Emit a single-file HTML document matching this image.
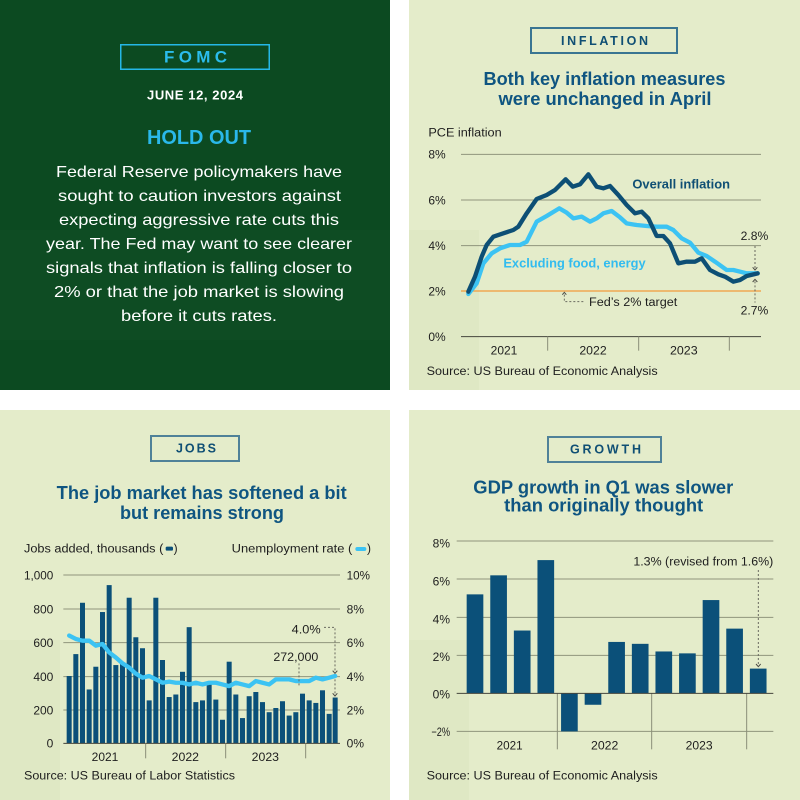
<!DOCTYPE html>
<html><head><meta charset="utf-8">
<style>html,body{margin:0;padding:0;background:#fff}svg{display:block}</style>
</head>
<body>
<svg width="800" height="800" viewBox="0 0 800 800" xmlns="http://www.w3.org/2000/svg" font-family="'Liberation Sans', sans-serif">
<rect width="800" height="800" fill="#fff"/>
<!-- panels -->
<rect x="0" y="0" width="390" height="390" fill="#0c4a21"/>
<rect x="409" y="0" width="391" height="390" fill="#e4ecca"/>
<rect x="0" y="410" width="390" height="390" fill="#e4ecca"/>
<rect x="409" y="410" width="391" height="390" fill="#e4ecca"/>
<!-- subtle texture -->
<g fill="#12542a" opacity="0.25">
<rect x="0" y="230" width="390" height="110"/>
</g>
<g fill="#d8e3bb" opacity="0.35">
<rect x="409" y="230" width="70" height="160"/>
<rect x="0" y="640" width="60" height="160"/>
<rect x="409" y="640" width="60" height="160"/>
</g>

<!-- FOMC panel -->
<rect x="120.75" y="44.75" width="148.5" height="24.5" fill="none" stroke="#25b7e6" stroke-width="1.5"/>
<text x="164" y="62.5" font-size="17" font-weight="bold" fill="#2bbcec" textLength="63" lengthAdjust="spacing">FOMC</text>
<text x="147" y="99.5" font-size="13" font-weight="bold" fill="#ffffff" textLength="96" lengthAdjust="spacing">JUNE 12, 2024</text>
<text x="199" y="144" font-size="20" font-weight="bold" fill="#2ab8ea" text-anchor="middle" textLength="104" lengthAdjust="spacingAndGlyphs">HOLD OUT</text>
<g font-size="16" fill="#ffffff" text-anchor="middle">
<text x="199" y="177" textLength="286" lengthAdjust="spacingAndGlyphs">Federal Reserve policymakers have</text>
<text x="199.5" y="201" textLength="283" lengthAdjust="spacingAndGlyphs">sought to caution investors against</text>
<text x="199" y="225" textLength="280" lengthAdjust="spacingAndGlyphs">expecting aggressive rate cuts this</text>
<text x="199" y="249" textLength="306" lengthAdjust="spacingAndGlyphs">year. The Fed may want to see clearer</text>
<text x="199" y="273" textLength="306" lengthAdjust="spacingAndGlyphs">signals that inflation is falling closer to</text>
<text x="199" y="297" textLength="290" lengthAdjust="spacingAndGlyphs">2% or that the job market is slowing</text>
<text x="199" y="321" textLength="156" lengthAdjust="spacingAndGlyphs">before it cuts rates.</text>
</g>

<!-- INFLATION panel header -->
<rect x="531" y="28" width="146" height="25" fill="none" stroke="#3a7592" stroke-width="2"/>
<text x="561" y="45" font-size="12.5" font-weight="bold" fill="#0f4f74" textLength="87" lengthAdjust="spacing">INFLATION</text>
<text x="604.5" y="85" font-size="18" font-weight="bold" fill="#0f5581" text-anchor="middle" textLength="242" lengthAdjust="spacingAndGlyphs">Both key inflation measures</text>
<text x="605" y="105" font-size="18" font-weight="bold" fill="#0f5581" text-anchor="middle" textLength="213" lengthAdjust="spacingAndGlyphs">were unchanged in April</text>

<!-- INFLATION chart (zoom coords) -->
<g transform="translate(400,120) scale(0.333333)">
<g stroke="#8f957c" stroke-width="3">
<line x1="183" y1="103" x2="1083" y2="103"/>
<line x1="183" y1="240" x2="1083" y2="240"/>
<line x1="183" y1="377" x2="1083" y2="377"/>
</g>
<line x1="183" y1="650" x2="1083" y2="650" stroke="#45463c" stroke-width="3"/>
<g stroke="#8a8f78" stroke-width="3">
<line x1="443" y1="650" x2="443" y2="692"/>
<line x1="716" y1="650" x2="716" y2="692"/>
<line x1="988" y1="650" x2="988" y2="692"/>
</g>
<line x1="183" y1="513" x2="1083" y2="513" stroke="#f29a3a" stroke-width="4"/>
<g font-size="36" fill="#1e1e1e">
<text x="85" y="50" textLength="220" lengthAdjust="spacingAndGlyphs">PCE inflation</text>
<text x="85" y="116" textLength="52" lengthAdjust="spacingAndGlyphs">8%</text>
<text x="85" y="253" textLength="52" lengthAdjust="spacingAndGlyphs">6%</text>
<text x="85" y="390" textLength="52" lengthAdjust="spacingAndGlyphs">4%</text>
<text x="85" y="526" textLength="52" lengthAdjust="spacingAndGlyphs">2%</text>
<text x="85" y="663" textLength="52" lengthAdjust="spacingAndGlyphs">0%</text>
<text x="272" y="703" textLength="80" lengthAdjust="spacingAndGlyphs">2021</text>
<text x="538" y="703" textLength="82" lengthAdjust="spacingAndGlyphs">2022</text>
<text x="810" y="703" textLength="83" lengthAdjust="spacingAndGlyphs">2023</text>
<text x="80" y="765" textLength="693" lengthAdjust="spacingAndGlyphs">Source: US Bureau of Economic Analysis</text>
<text x="1022" y="360" textLength="83" lengthAdjust="spacingAndGlyphs">2.8%</text>
<text x="1022" y="583" textLength="83" lengthAdjust="spacingAndGlyphs">2.7%</text>
<text x="567" y="558" textLength="265" lengthAdjust="spacingAndGlyphs">Fed’s 2% target</text>
</g>
<g stroke="#6a6a60" stroke-width="3" fill="none" stroke-dasharray="6 6">
<line x1="1065" y1="378" x2="1065" y2="446"/>
<line x1="1065" y1="484" x2="1065" y2="548"/>
<polyline points="493,524 493,545 555,545"/>
</g>
<g stroke="#4a4a44" stroke-width="3" fill="none">
<polyline points="1058,442 1065,450 1072,442"/>
<polyline points="1058,486 1065,478 1072,486"/>
<polyline points="487,524 493,517 499,524"/>
</g>
<polyline fill="none" stroke="#3cc3f3" stroke-width="13" stroke-linejoin="round" stroke-linecap="round" points="205,522 230,490 250,430 275,400 300,385 330,375 360,375 380,365 410,305 440,288 478,265 500,278 520,295 545,290 570,305 590,295 610,280 635,273 660,292 680,310 710,315 740,318 770,320 800,320 820,330 845,355 870,368 895,398 920,408 945,425 980,450 1000,450 1040,460 1073,460"/>
<polyline fill="none" stroke="#0d4f75" stroke-width="13" stroke-linejoin="round" stroke-linecap="round" points="205,515 225,470 245,410 260,375 280,350 310,340 340,330 355,320 380,280 410,237 440,225 465,210 480,195 497,178 518,200 540,193 565,163 590,200 610,205 630,198 655,225 680,255 705,280 725,275 745,295 770,348 790,348 810,370 835,430 860,425 885,425 905,415 930,450 955,463 975,470 1000,485 1020,480 1040,468 1073,460"/>
<text x="697" y="206" font-size="39" font-weight="bold" fill="#0f4f74" textLength="293" lengthAdjust="spacingAndGlyphs">Overall inflation</text>
<text x="310" y="442" font-size="39" font-weight="bold" fill="#32bcef" textLength="427" lengthAdjust="spacingAndGlyphs">Excluding food, energy</text>
</g>

<!-- JOBS header -->
<rect x="151" y="436" width="88" height="25" fill="none" stroke="#4f8198" stroke-width="2"/>
<text x="176" y="452.7" font-size="12.5" font-weight="bold" fill="#0f4f74" textLength="40" lengthAdjust="spacing">JOBS</text>
<text x="201.7" y="499" font-size="18" font-weight="bold" fill="#0f5581" text-anchor="middle" textLength="290" lengthAdjust="spacingAndGlyphs">The job market has softened a bit</text>
<text x="202" y="519" font-size="18" font-weight="bold" fill="#0f5581" text-anchor="middle" textLength="164" lengthAdjust="spacingAndGlyphs">but remains strong</text>

<!-- JOBS chart -->
<g transform="translate(0,530) scale(0.333333)">
<g stroke="#8f957c" stroke-width="3">
<line x1="190" y1="135" x2="1020" y2="135"/>
<line x1="190" y1="237" x2="1020" y2="237"/>
<line x1="190" y1="338" x2="1020" y2="338"/>
<line x1="190" y1="440" x2="1020" y2="440"/>
<line x1="190" y1="540" x2="1020" y2="540"/>
</g>
<g fill="#0b5079">
<rect x="200" y="438" width="15" height="202"/>
<rect x="220" y="372.3" width="15" height="267.7"/>
<rect x="240" y="218.3" width="15" height="421.7"/>
<rect x="260" y="478.4" width="15" height="161.6"/>
<rect x="280" y="410.2" width="15" height="229.8"/>
<rect x="300" y="246.1" width="15" height="393.9"/>
<rect x="320" y="165.3" width="15" height="474.7"/>
<rect x="340" y="405.2" width="15" height="234.8"/>
<rect x="360" y="397.6" width="15" height="242.4"/>
<rect x="380" y="203.2" width="15" height="436.8"/>
<rect x="400" y="321.8" width="15" height="318.2"/>
<rect x="420" y="354.7" width="15" height="285.3"/>
<rect x="440" y="511.2" width="15" height="128.8"/>
<rect x="460" y="203.2" width="15" height="436.8"/>
<rect x="480" y="390" width="15" height="250"/>
<rect x="500" y="501.1" width="15" height="138.9"/>
<rect x="520" y="493.5" width="15" height="146.5"/>
<rect x="540" y="425.4" width="15" height="214.6"/>
<rect x="560" y="291.5" width="15" height="348.5"/>
<rect x="580" y="516.3" width="15" height="123.7"/>
<rect x="600" y="511.2" width="15" height="128.8"/>
<rect x="620" y="463.2" width="15" height="176.8"/>
<rect x="640" y="508.7" width="15" height="131.3"/>
<rect x="660" y="569.3" width="15" height="70.7"/>
<rect x="680" y="395.1" width="15" height="244.9"/>
<rect x="700" y="493.5" width="15" height="146.5"/>
<rect x="720" y="564.2" width="15" height="75.8"/>
<rect x="740" y="498.6" width="15" height="141.4"/>
<rect x="760" y="486" width="15" height="154"/>
<rect x="780" y="516.3" width="15" height="123.7"/>
<rect x="800" y="546.6" width="15" height="93.4"/>
<rect x="820" y="534" width="15" height="106"/>
<rect x="840" y="513.7" width="15" height="126.3"/>
<rect x="860" y="556.7" width="15" height="83.3"/>
<rect x="880" y="546.6" width="15" height="93.4"/>
<rect x="900" y="491" width="15" height="149"/>
<rect x="920" y="511.2" width="15" height="128.8"/>
<rect x="940" y="518.8" width="15" height="121.2"/>
<rect x="960" y="480.9" width="15" height="159.1"/>
<rect x="980" y="551.6" width="15" height="88.4"/>
<rect x="998" y="502.6" width="15" height="137.4"/>
</g>
<line x1="190" y1="640" x2="1020" y2="640" stroke="#45463c" stroke-width="3"/>
<g stroke="#8a8f78" stroke-width="3">
<line x1="437" y1="640" x2="437" y2="685"/>
<line x1="677" y1="640" x2="677" y2="685"/>
<line x1="917" y1="640" x2="917" y2="685"/>
</g>
<polyline fill="none" stroke="#3cc3f3" stroke-width="13" stroke-linejoin="round" stroke-linecap="round" points="207.5,316.8 227.5,326.9 247.5,332 267.5,332 287.5,347.1 307.5,342.1 327.5,367.3 347.5,382.5 367.5,400 387.5,412.8 407.5,431 427.5,443 447.5,438 467.5,448.1 487.5,458.2 507.5,455 527.5,458.2 547.5,458.2 567.5,463.3 587.5,458.2 607.5,463.3 627.5,458.2 647.5,458.2 667.5,463.3 687.5,468.3 707.5,458.2 727.5,463.3 747.5,468.3 767.5,453.2 787.5,458.2 807.5,463.3 827.5,448.1 847.5,448.1 867.5,448.1 887.5,453.2 907.5,453.2 927.5,453.2 947.5,443 967.5,448.1 987.5,443 1005.5,438"/>
<g font-size="36" fill="#1e1e1e">
<text x="72" y="68" textLength="418" lengthAdjust="spacingAndGlyphs">Jobs added, thousands (</text>
<text x="521" y="68">)</text>
<text x="695" y="68" textLength="362" lengthAdjust="spacingAndGlyphs">Unemployment rate (</text>
<text x="1101" y="68">)</text>
<g text-anchor="end">
<text x="160" y="148" textLength="88" lengthAdjust="spacingAndGlyphs">1,000</text>
<text x="160" y="250" textLength="60" lengthAdjust="spacingAndGlyphs">800</text>
<text x="160" y="351" textLength="60" lengthAdjust="spacingAndGlyphs">600</text>
<text x="160" y="453" textLength="60" lengthAdjust="spacingAndGlyphs">400</text>
<text x="160" y="553" textLength="60" lengthAdjust="spacingAndGlyphs">200</text>
<text x="160" y="653">0</text>
</g>
<text x="1040" y="148" textLength="70" lengthAdjust="spacingAndGlyphs">10%</text>
<text x="1040" y="250" textLength="52" lengthAdjust="spacingAndGlyphs">8%</text>
<text x="1040" y="351" textLength="52" lengthAdjust="spacingAndGlyphs">6%</text>
<text x="1040" y="453" textLength="52" lengthAdjust="spacingAndGlyphs">4%</text>
<text x="1040" y="553" textLength="52" lengthAdjust="spacingAndGlyphs">2%</text>
<text x="1040" y="653" textLength="52" lengthAdjust="spacingAndGlyphs">0%</text>
<text x="275" y="693" textLength="80" lengthAdjust="spacingAndGlyphs">2021</text>
<text x="515" y="693" textLength="82" lengthAdjust="spacingAndGlyphs">2022</text>
<text x="755" y="693" textLength="82" lengthAdjust="spacingAndGlyphs">2023</text>
<text x="72" y="748" textLength="633" lengthAdjust="spacingAndGlyphs">Source: US Bureau of Labor Statistics</text>
<text x="875" y="310" textLength="87" lengthAdjust="spacingAndGlyphs">4.0%</text>
<text x="820" y="393" textLength="135" lengthAdjust="spacingAndGlyphs">272,000</text>
</g>
<rect x="497" y="50" width="22" height="12" rx="4" fill="#0b5079"/>
<rect x="1066" y="51" width="33" height="12" rx="6" fill="#3cc3f3"/>
<g stroke="#6a6a60" stroke-width="3" fill="none" stroke-dasharray="6 6">
<polyline points="972,292 1005,292 1005,424"/>
<line x1="1005" y1="448" x2="1005" y2="492"/>
<line x1="897" y1="400" x2="897" y2="470"/>
</g>
<g stroke="#4a4a44" stroke-width="3" fill="none">
<polyline points="998,422 1005,430 1012,422"/>
<polyline points="998,490 1005,498 1012,490"/>
</g>
</g>

<!-- GROWTH header -->
<rect x="548" y="437" width="113" height="25" fill="none" stroke="#4f8198" stroke-width="2"/>
<text x="570" y="453.3" font-size="12.5" font-weight="bold" fill="#0f4f74" textLength="71" lengthAdjust="spacing">GROWTH</text>
<text x="603.3" y="493.3" font-size="18" font-weight="bold" fill="#0f5581" text-anchor="middle" textLength="260" lengthAdjust="spacingAndGlyphs">GDP growth in Q1 was slower</text>
<text x="603.7" y="511.7" font-size="18" font-weight="bold" fill="#0f5581" text-anchor="middle" textLength="199" lengthAdjust="spacingAndGlyphs">than originally thought</text>

<!-- GROWTH chart -->
<g transform="translate(400,530) scale(0.333333)">
<g stroke="#8f957c" stroke-width="3">
<line x1="170" y1="33" x2="1120" y2="33"/>
<line x1="170" y1="147" x2="1120" y2="147"/>
<line x1="170" y1="262" x2="1120" y2="262"/>
<line x1="170" y1="376" x2="1120" y2="376"/>
<line x1="170" y1="604" x2="1120" y2="604"/>
</g>
<g stroke="#8a8f78" stroke-width="3">
<line x1="472" y1="490" x2="472" y2="658"/>
<line x1="755" y1="490" x2="755" y2="658"/>
<line x1="1040" y1="490" x2="1040" y2="658"/>
</g>
<g fill="#0b5079">
<rect x="200" y="193.1" width="50" height="296.9"/>
<rect x="270.8" y="136" width="50" height="354"/>
<rect x="341.6" y="301.6" width="50" height="188.4"/>
<rect x="412.4" y="90.3" width="50" height="399.7"/>
<rect x="483.2" y="490" width="50" height="114.2"/>
<rect x="554" y="490" width="50" height="34.3"/>
<rect x="624.8" y="335.8" width="50" height="154.2"/>
<rect x="695.6" y="341.5" width="50" height="148.5"/>
<rect x="766.4" y="364.4" width="50" height="125.6"/>
<rect x="837.2" y="370.1" width="50" height="119.9"/>
<rect x="908" y="210.2" width="50" height="279.8"/>
<rect x="978.8" y="295.9" width="50" height="194.1"/>
<rect x="1049.6" y="415.8" width="50" height="74.2"/>
</g>
<line x1="170" y1="490" x2="1120" y2="490" stroke="#45463c" stroke-width="3"/>
<g font-size="36" fill="#1e1e1e">
<g text-anchor="end">
<text x="150" y="53" textLength="52" lengthAdjust="spacingAndGlyphs">8%</text>
<text x="150" y="166" textLength="52" lengthAdjust="spacingAndGlyphs">6%</text>
<text x="150" y="280" textLength="52" lengthAdjust="spacingAndGlyphs">4%</text>
<text x="150" y="393" textLength="52" lengthAdjust="spacingAndGlyphs">2%</text>
<text x="150" y="506" textLength="52" lengthAdjust="spacingAndGlyphs">0%</text>
<text x="150" y="618" textLength="56" lengthAdjust="spacingAndGlyphs">−2%</text>
</g>
<text x="290" y="658" textLength="78" lengthAdjust="spacingAndGlyphs">2021</text>
<text x="573" y="658" textLength="82" lengthAdjust="spacingAndGlyphs">2022</text>
<text x="857" y="658" textLength="81" lengthAdjust="spacingAndGlyphs">2023</text>
<text x="80" y="748" textLength="693" lengthAdjust="spacingAndGlyphs">Source: US Bureau of Economic Analysis</text>
<text x="700" y="106" textLength="420" lengthAdjust="spacingAndGlyphs">1.3% (revised from 1.6%)</text>
</g>
<line x1="1075" y1="120" x2="1075" y2="404" stroke="#6a6a60" stroke-width="3" stroke-dasharray="6 6"/>
<polyline points="1068,402 1075,410 1082,402" stroke="#4a4a44" stroke-width="3" fill="none"/>
</g>
</svg>
</body></html>
